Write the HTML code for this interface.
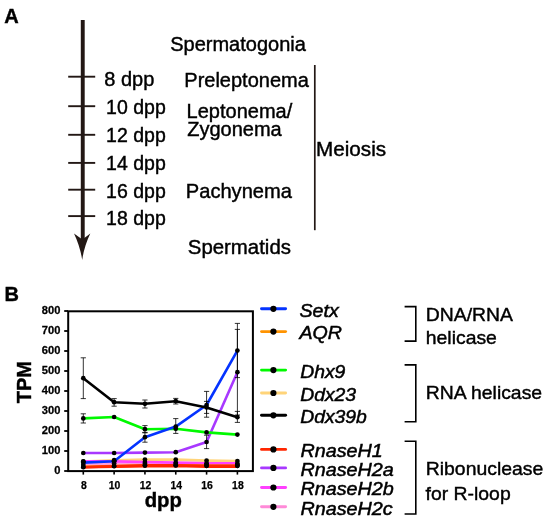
<!DOCTYPE html>
<html lang="en"><head><meta charset="utf-8"><title>Figure</title>
<style>
html,body{margin:0;padding:0;background:#fff;}
body{width:550px;height:525px;overflow:hidden;}
svg{display:block;filter:blur(0.35px);}
text{font-family:"Liberation Sans",sans-serif;fill:#000;}
</style></head><body>
<svg width="550" height="525" viewBox="0 0 550 525">
<rect width="550" height="525" fill="#fff"/>
<g id="panelA">
<text transform="translate(4.3,22.5)" font-size="20" font-weight="bold" stroke="#000" stroke-width="0.4">A</text>
<line x1="82.75" y1="20" x2="82.75" y2="240" stroke="#231815" stroke-width="3.9"/>
<path d="M74.0 233.5 L82.4 239.6 L90.3 233.5 Q84.2 246 82.2 259.9 Q80.0 246 74.0 233.5 Z" fill="#231815"/>
<line x1="68.2" y1="76.7" x2="95.2" y2="76.7" stroke="#231815" stroke-width="1.9"/>
<line x1="68.2" y1="106.2" x2="95.2" y2="106.2" stroke="#231815" stroke-width="1.9"/>
<line x1="68.2" y1="134.8" x2="95.2" y2="134.8" stroke="#231815" stroke-width="1.9"/>
<line x1="68.2" y1="162.9" x2="95.2" y2="162.9" stroke="#231815" stroke-width="1.9"/>
<line x1="68.2" y1="189.7" x2="95.2" y2="189.7" stroke="#231815" stroke-width="1.9"/>
<line x1="68.2" y1="216.1" x2="95.2" y2="216.1" stroke="#231815" stroke-width="1.9"/>
<text transform="translate(104.3,86.2)" font-size="20.0" stroke="#000" stroke-width="0.42">8 dpp</text>
<text transform="translate(106.1,114) scale(0.975,1)" font-size="20.0" stroke="#000" stroke-width="0.42">10 dpp</text>
<text transform="translate(106.1,141.9) scale(0.975,1)" font-size="20.0" stroke="#000" stroke-width="0.42">12 dpp</text>
<text transform="translate(106.1,169.7) scale(0.975,1)" font-size="20.0" stroke="#000" stroke-width="0.42">14 dpp</text>
<text transform="translate(106.1,197.5) scale(0.975,1)" font-size="20.0" stroke="#000" stroke-width="0.42">16 dpp</text>
<text transform="translate(106.1,225.2) scale(0.975,1)" font-size="20.0" stroke="#000" stroke-width="0.42">18 dpp</text>
<text transform="translate(170.2,51.2)" font-size="20.0" stroke="#000" stroke-width="0.42">Spermatogonia</text>
<text transform="translate(184.3,87.3)" font-size="20.0" stroke="#000" stroke-width="0.42">Preleptonema</text>
<text transform="translate(186.6,118.4)" font-size="20.0" stroke="#000" stroke-width="0.42">Leptonema/</text>
<text transform="translate(187.2,136.4)" font-size="20.0" stroke="#000" stroke-width="0.42">Zygonema</text>
<text transform="translate(185.8,198.2) scale(1.005,1)" font-size="20.0" stroke="#000" stroke-width="0.42">Pachynema</text>
<text transform="translate(187.8,254.2) scale(1.02,1)" font-size="20.0" stroke="#000" stroke-width="0.42">Spermatids</text>
<text transform="translate(316.0,156.0) scale(1.035,1)" font-size="20.0" stroke="#000" stroke-width="0.42">Meiosis</text>
<line x1="314.8" y1="65" x2="314.8" y2="230.2" stroke="#231815" stroke-width="1.7"/>
</g>
<g id="panelB">
<text transform="translate(4.6,301)" font-size="20" font-weight="bold" stroke="#000" stroke-width="0.4">B</text>
<text transform="translate(60.4,474.45) scale(1.07,1)" font-size="10.4" font-weight="bold" text-anchor="end" stroke="#000" stroke-width="0.25">0</text>
<line x1="64.2" y1="471.0" x2="68" y2="471.0" stroke="#000" stroke-width="1.8"/>
<text transform="translate(60.4,454.45) scale(1.07,1)" font-size="10.4" font-weight="bold" text-anchor="end" stroke="#000" stroke-width="0.25">100</text>
<line x1="64.2" y1="451.0" x2="68" y2="451.0" stroke="#000" stroke-width="1.8"/>
<text transform="translate(60.4,434.45) scale(1.07,1)" font-size="10.4" font-weight="bold" text-anchor="end" stroke="#000" stroke-width="0.25">200</text>
<line x1="64.2" y1="431.0" x2="68" y2="431.0" stroke="#000" stroke-width="1.8"/>
<text transform="translate(60.4,414.45) scale(1.07,1)" font-size="10.4" font-weight="bold" text-anchor="end" stroke="#000" stroke-width="0.25">300</text>
<line x1="64.2" y1="411.0" x2="68" y2="411.0" stroke="#000" stroke-width="1.8"/>
<text transform="translate(60.4,394.45) scale(1.07,1)" font-size="10.4" font-weight="bold" text-anchor="end" stroke="#000" stroke-width="0.25">400</text>
<line x1="64.2" y1="391.0" x2="68" y2="391.0" stroke="#000" stroke-width="1.8"/>
<text transform="translate(60.4,374.45) scale(1.07,1)" font-size="10.4" font-weight="bold" text-anchor="end" stroke="#000" stroke-width="0.25">500</text>
<line x1="64.2" y1="371.0" x2="68" y2="371.0" stroke="#000" stroke-width="1.8"/>
<text transform="translate(60.4,354.45) scale(1.07,1)" font-size="10.4" font-weight="bold" text-anchor="end" stroke="#000" stroke-width="0.25">600</text>
<line x1="64.2" y1="351.0" x2="68" y2="351.0" stroke="#000" stroke-width="1.8"/>
<text transform="translate(60.4,334.45) scale(1.07,1)" font-size="10.4" font-weight="bold" text-anchor="end" stroke="#000" stroke-width="0.25">700</text>
<line x1="64.2" y1="331.0" x2="68" y2="331.0" stroke="#000" stroke-width="1.8"/>
<text transform="translate(60.4,314.45) scale(1.07,1)" font-size="10.4" font-weight="bold" text-anchor="end" stroke="#000" stroke-width="0.25">800</text>
<line x1="64.2" y1="311.0" x2="68" y2="311.0" stroke="#000" stroke-width="1.8"/>
<text transform="translate(83.8,489)" font-size="10.4" font-weight="bold" text-anchor="middle" stroke="#000" stroke-width="0.25">8</text>
<line x1="83.3" y1="471" x2="83.3" y2="474.6" stroke="#000" stroke-width="1.6"/>
<text transform="translate(114.62,489)" font-size="10.4" font-weight="bold" text-anchor="middle" stroke="#000" stroke-width="0.25">10</text>
<line x1="114.12" y1="471" x2="114.12" y2="474.6" stroke="#000" stroke-width="1.6"/>
<text transform="translate(145.44,489)" font-size="10.4" font-weight="bold" text-anchor="middle" stroke="#000" stroke-width="0.25">12</text>
<line x1="144.94" y1="471" x2="144.94" y2="474.6" stroke="#000" stroke-width="1.6"/>
<text transform="translate(176.26,489)" font-size="10.4" font-weight="bold" text-anchor="middle" stroke="#000" stroke-width="0.25">14</text>
<line x1="175.76" y1="471" x2="175.76" y2="474.6" stroke="#000" stroke-width="1.6"/>
<text transform="translate(207.08,489)" font-size="10.4" font-weight="bold" text-anchor="middle" stroke="#000" stroke-width="0.25">16</text>
<line x1="206.58" y1="471" x2="206.58" y2="474.6" stroke="#000" stroke-width="1.6"/>
<text transform="translate(237.9,489)" font-size="10.4" font-weight="bold" text-anchor="middle" stroke="#000" stroke-width="0.25">18</text>
<line x1="237.4" y1="471" x2="237.4" y2="474.6" stroke="#000" stroke-width="1.6"/>
<text transform="translate(31.1,382.1) rotate(-90)" font-size="20" font-weight="bold" text-anchor="middle" stroke="#000" stroke-width="0.4">TPM</text>
<text transform="translate(163.3,506.6) scale(1.03,1)" font-size="19.7" font-weight="bold" text-anchor="middle" stroke="#000" stroke-width="0.4">dpp</text>
<polyline points="83.3,461.6 114.12,460.2 144.94,459.6 175.76,459.6 206.58,460.6 237.4,461.0" fill="none" stroke="#ffd479" stroke-width="2.6" stroke-linejoin="round" stroke-linecap="round"/>
<polyline points="83.3,464.8 114.12,463.6 144.94,463.6 175.76,463.8 206.58,464.6 237.4,464.8" fill="none" stroke="#ff9ddc" stroke-width="2.6" stroke-linejoin="round" stroke-linecap="round"/>
<polyline points="83.3,461.4 114.12,461.4 144.94,462.0 175.76,462.6 206.58,463.2 237.4,463.4" fill="none" stroke="#ff40ff" stroke-width="2.6" stroke-linejoin="round" stroke-linecap="round"/>
<polyline points="83.3,466.8 114.12,466.0 144.94,465.6 175.76,465.4 206.58,465.8 237.4,465.8" fill="none" stroke="#ff9300" stroke-width="2.6" stroke-linejoin="round" stroke-linecap="round"/>
<polyline points="83.3,467.2 114.12,466.6 144.94,466.2 175.76,466.0 206.58,466.6 237.4,466.6" fill="none" stroke="#ff2600" stroke-width="2.6" stroke-linejoin="round" stroke-linecap="round"/>
<polyline points="83.3,467.2 114.12,466.2 144.94,465.4 175.76,465.2 206.58,465.8 237.4,465.8" fill="none" stroke="#ff2600" stroke-width="2.6" stroke-linejoin="round" stroke-linecap="round"/>
<polyline points="83.3,453.0 114.12,453.0 144.94,452.6 175.76,452.2 206.58,442.0 237.4,372.2" fill="none" stroke="#a838ff" stroke-width="2.6" stroke-linejoin="round" stroke-linecap="round"/>
<polyline points="83.3,418.4 114.12,417.0 144.94,429.2 175.76,428.8 206.58,432.4 237.4,434.6" fill="none" stroke="#00f900" stroke-width="2.6" stroke-linejoin="round" stroke-linecap="round"/>
<polyline points="83.3,462.6 114.12,461.2 144.94,437.2 175.76,426.6 206.58,405.0 237.4,350.6" fill="none" stroke="#0433ff" stroke-width="2.6" stroke-linejoin="round" stroke-linecap="round"/>
<polyline points="83.3,378.2 114.12,402.2 144.94,403.8 175.76,401.2 206.58,407.4 237.4,417.2" fill="none" stroke="#000000" stroke-width="2.6" stroke-linejoin="round" stroke-linecap="round"/>
<path d="M206.58 435.2V448.6M203.98000000000002 435.2h5.2M203.98000000000002 448.6h5.2M237.4 329.4V415.0M234.8 329.4h5.2M234.8 415.0h5.2M83.3 413.8V423.0M80.7 413.8h5.2M80.7 423.0h5.2M144.94 425.6V432.8M142.34 425.6h5.2M142.34 432.8h5.2M144.94 432.4V442.2M142.34 432.4h5.2M142.34 442.2h5.2M175.76 418.6V433.4M173.16 418.6h5.2M173.16 433.4h5.2M206.58 391.4V417.2M203.98000000000002 391.4h5.2M203.98000000000002 417.2h5.2M237.4 323.4V377.6M234.8 323.4h5.2M234.8 377.6h5.2M83.3 357.8V398.6M80.7 357.8h5.2M80.7 398.6h5.2M114.12 398.6V406.2M111.52000000000001 398.6h5.2M111.52000000000001 406.2h5.2M144.94 400.0V408.0M142.34 400.0h5.2M142.34 408.0h5.2M175.76 398.4V404.0M173.16 398.4h5.2M173.16 404.0h5.2M206.58 401.4V413.4M203.98000000000002 401.4h5.2M203.98000000000002 413.4h5.2M237.4 411.4V422.4M234.8 411.4h5.2M234.8 422.4h5.2" fill="none" stroke="#000" stroke-width="0.8"/>
<circle cx="83.3" cy="461.6" r="2.35" fill="#000"/>
<circle cx="114.12" cy="460.2" r="2.35" fill="#000"/>
<circle cx="144.94" cy="459.6" r="2.35" fill="#000"/>
<circle cx="175.76" cy="459.6" r="2.35" fill="#000"/>
<circle cx="206.58" cy="460.6" r="2.35" fill="#000"/>
<circle cx="237.4" cy="461.0" r="2.35" fill="#000"/>
<circle cx="83.3" cy="464.8" r="2.35" fill="#000"/>
<circle cx="114.12" cy="463.6" r="2.35" fill="#000"/>
<circle cx="144.94" cy="463.6" r="2.35" fill="#000"/>
<circle cx="175.76" cy="463.8" r="2.35" fill="#000"/>
<circle cx="206.58" cy="464.6" r="2.35" fill="#000"/>
<circle cx="237.4" cy="464.8" r="2.35" fill="#000"/>
<circle cx="83.3" cy="461.4" r="2.35" fill="#000"/>
<circle cx="114.12" cy="461.4" r="2.35" fill="#000"/>
<circle cx="144.94" cy="462.0" r="2.35" fill="#000"/>
<circle cx="175.76" cy="462.6" r="2.35" fill="#000"/>
<circle cx="206.58" cy="463.2" r="2.35" fill="#000"/>
<circle cx="237.4" cy="463.4" r="2.35" fill="#000"/>
<circle cx="83.3" cy="466.8" r="2.35" fill="#000"/>
<circle cx="114.12" cy="466.0" r="2.35" fill="#000"/>
<circle cx="144.94" cy="465.6" r="2.35" fill="#000"/>
<circle cx="175.76" cy="465.4" r="2.35" fill="#000"/>
<circle cx="206.58" cy="465.8" r="2.35" fill="#000"/>
<circle cx="237.4" cy="465.8" r="2.35" fill="#000"/>
<circle cx="83.3" cy="467.2" r="2.35" fill="#000"/>
<circle cx="114.12" cy="466.2" r="2.35" fill="#000"/>
<circle cx="144.94" cy="465.4" r="2.35" fill="#000"/>
<circle cx="175.76" cy="465.2" r="2.35" fill="#000"/>
<circle cx="206.58" cy="465.8" r="2.35" fill="#000"/>
<circle cx="237.4" cy="465.8" r="2.35" fill="#000"/>
<circle cx="83.3" cy="453.0" r="2.35" fill="#000"/>
<circle cx="114.12" cy="453.0" r="2.35" fill="#000"/>
<circle cx="144.94" cy="452.6" r="2.35" fill="#000"/>
<circle cx="175.76" cy="452.2" r="2.35" fill="#000"/>
<circle cx="206.58" cy="442.0" r="2.35" fill="#000"/>
<circle cx="237.4" cy="372.2" r="2.35" fill="#000"/>
<circle cx="83.3" cy="418.4" r="2.35" fill="#000"/>
<circle cx="114.12" cy="417.0" r="2.35" fill="#000"/>
<circle cx="144.94" cy="429.2" r="2.35" fill="#000"/>
<circle cx="175.76" cy="428.8" r="2.35" fill="#000"/>
<circle cx="206.58" cy="432.4" r="2.35" fill="#000"/>
<circle cx="237.4" cy="434.6" r="2.35" fill="#000"/>
<circle cx="83.3" cy="462.6" r="2.35" fill="#000"/>
<circle cx="114.12" cy="461.2" r="2.35" fill="#000"/>
<circle cx="144.94" cy="437.2" r="2.35" fill="#000"/>
<circle cx="175.76" cy="426.6" r="2.35" fill="#000"/>
<circle cx="206.58" cy="405.0" r="2.35" fill="#000"/>
<circle cx="237.4" cy="350.6" r="2.35" fill="#000"/>
<circle cx="83.3" cy="378.2" r="2.35" fill="#000"/>
<circle cx="114.12" cy="402.2" r="2.35" fill="#000"/>
<circle cx="144.94" cy="403.8" r="2.35" fill="#000"/>
<circle cx="175.76" cy="401.2" r="2.35" fill="#000"/>
<circle cx="206.58" cy="407.4" r="2.35" fill="#000"/>
<circle cx="237.4" cy="417.2" r="2.35" fill="#000"/>
<rect x="68.2" y="311.3" width="184.7" height="159.8" fill="none" stroke="#000" stroke-width="2"/>
<line x1="261.5" y1="308.8" x2="285.6" y2="308.8" stroke="#0433ff" stroke-width="2.9" stroke-linecap="round"/>
<circle cx="273.4" cy="308.8" r="3.1" fill="#000"/>
<text transform="translate(299.5,316.6) scale(1.05,1)" font-size="18.7" font-style="italic" stroke="#000" stroke-width="0.5">Setx</text>
<line x1="261.5" y1="331.6" x2="285.6" y2="331.6" stroke="#ff9300" stroke-width="2.9" stroke-linecap="round"/>
<circle cx="273.4" cy="331.6" r="3.1" fill="#000"/>
<text transform="translate(299.5,339.4) scale(1.05,1)" font-size="18.7" font-style="italic" stroke="#000" stroke-width="0.5">AQR</text>
<line x1="261.5" y1="370.1" x2="285.6" y2="370.1" stroke="#00f900" stroke-width="2.9" stroke-linecap="round"/>
<circle cx="273.4" cy="370.1" r="3.1" fill="#000"/>
<text transform="translate(300.2,378.0) scale(1.035,1)" font-size="18.7" font-style="italic" stroke="#000" stroke-width="0.5">Dhx9</text>
<line x1="261.5" y1="393.0" x2="285.6" y2="393.0" stroke="#ffd479" stroke-width="2.9" stroke-linecap="round"/>
<circle cx="273.4" cy="393.0" r="3.1" fill="#000"/>
<text transform="translate(300.2,400.9) scale(1.035,1)" font-size="18.7" font-style="italic" stroke="#000" stroke-width="0.5">Ddx23</text>
<line x1="261.5" y1="415.3" x2="285.6" y2="415.3" stroke="#000000" stroke-width="2.9" stroke-linecap="round"/>
<circle cx="273.4" cy="415.3" r="3.1" fill="#000"/>
<text transform="translate(300.2,423.0) scale(1.035,1)" font-size="18.7" font-style="italic" stroke="#000" stroke-width="0.5">Ddx39b</text>
<line x1="261.5" y1="449.4" x2="285.6" y2="449.4" stroke="#ff2600" stroke-width="2.9" stroke-linecap="round"/>
<circle cx="273.4" cy="449.4" r="3.1" fill="#000"/>
<text transform="translate(300.4,456.7) scale(1.058,1)" font-size="18.7" font-style="italic" stroke="#000" stroke-width="0.5">RnaseH1</text>
<line x1="261.5" y1="467.9" x2="285.6" y2="467.9" stroke="#a838ff" stroke-width="2.9" stroke-linecap="round"/>
<circle cx="273.4" cy="467.9" r="3.1" fill="#000"/>
<text transform="translate(300.4,475.5) scale(1.058,1)" font-size="18.7" font-style="italic" stroke="#000" stroke-width="0.5">RnaseH2a</text>
<line x1="261.5" y1="487.5" x2="285.6" y2="487.5" stroke="#ff40ff" stroke-width="2.9" stroke-linecap="round"/>
<circle cx="273.4" cy="487.5" r="3.1" fill="#000"/>
<text transform="translate(300.4,495.0) scale(1.058,1)" font-size="18.7" font-style="italic" stroke="#000" stroke-width="0.5">RnaseH2b</text>
<line x1="261.5" y1="506.8" x2="285.6" y2="506.8" stroke="#ff8ad8" stroke-width="2.9" stroke-linecap="round"/>
<circle cx="273.4" cy="506.8" r="3.1" fill="#000"/>
<text transform="translate(300.4,514.5) scale(1.058,1)" font-size="18.7" font-style="italic" stroke="#000" stroke-width="0.5">RnaseH2c</text>
<path d="M404.6 306.6H415.8V341.1H404.6" fill="none" stroke="#000" stroke-width="1.6"/>
<path d="M404.6 364.9H415.8V421.8H404.6" fill="none" stroke="#000" stroke-width="1.6"/>
<path d="M404.6 441.3H415.8V514.0H404.6" fill="none" stroke="#000" stroke-width="1.6"/>
<text transform="translate(425.8,320.7) scale(1.02,1)" font-size="19.0" stroke="#000" stroke-width="0.42">DNA/RNA</text>
<text transform="translate(425.8,344.3) scale(1.02,1)" font-size="19.0" stroke="#000" stroke-width="0.42">helicase</text>
<text transform="translate(425.8,399.2) scale(1.02,1)" font-size="19.0" stroke="#000" stroke-width="0.42">RNA helicase</text>
<text transform="translate(425.8,475.1) scale(1.02,1)" font-size="19.0" stroke="#000" stroke-width="0.42">Ribonuclease</text>
<text transform="translate(425.6,499.9) scale(1.02,1)" font-size="19.0" stroke="#000" stroke-width="0.42">for R-loop</text>
</g>
</svg></body></html>
